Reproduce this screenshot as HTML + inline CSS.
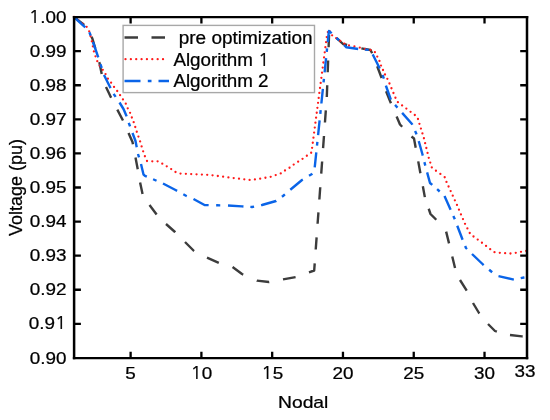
<!DOCTYPE html>
<html><head><meta charset="utf-8"><title>Voltage profile</title>
<style>
html,body{margin:0;padding:0;background:#fff;}
svg{display:block;}
text{font-family:"Liberation Sans", Arial, sans-serif;font-size:18px;fill:#000;stroke:#000;stroke-width:0.25px;}
.o{font-family:NanumGothic,"Liberation Sans",sans-serif;}
</style></head>
<body>
<svg width="550" height="420" viewBox="0 0 550 420">
<rect width="550" height="420" fill="#fff"/>
<path d="M74.00 17.00L84.21 25.03M91.56 36.71L92.50 39.00 95.33 48.70M99.26 62.17L99.50 63.00 101.71 74.07M106.00 87.00L111.00 97.50 111.14 97.77M117.31 109.60L122.99 120.49M128.50 133.00L132.50 142.00 132.94 144.26M135.50 157.50L137.50 168.00 137.73 169.29M140.10 182.48L142.55 194.00M149.50 205.00L156.62 214.49M166.00 224.00L175.00 232.00 175.25 232.25M185.00 242.00L194.00 251.00 194.05 251.03M207.00 257.60L218.79 262.91M232.57 266.97L242.00 274.00 243.23 274.54M256.78 280.50L257.00 280.60 269.00 282.00 269.23 281.96M283.00 279.40L295.58 277.08M309.00 272.40L314.20 270.50 314.72 263.34M315.72 249.51L316.61 237.35M317.59 223.78L318.43 212.31M319.36 199.50L320.25 187.24M321.24 173.55L322.12 161.50M323.09 148.04L323.97 135.97M324.95 122.50L325.82 110.45M326.80 97.00L327.22 85.33M327.70 72.29L328.13 60.43M328.61 47.19L329.06 34.83M336.70 38.06L343.00 44.00 347.10 45.02M361.37 48.31L370.50 50.00 372.14 53.28M377.21 66.23L381.62 77.99M386.10 91.26L390.00 101.00 390.95 103.21M396.61 116.45L400.00 124.50 402.18 126.78M411.50 136.50L414.00 138.50 415.70 147.70M418.23 161.37L420.41 173.17M422.85 186.34L424.84 197.11M428.70 208.76L430.50 214.00 436.00 219.50 436.28 219.82M446.14 231.59L449.03 243.39M452.25 256.56L455.04 268.00M460.00 280.00L466.73 290.57M473.00 303.00L479.00 313.00 479.32 313.40M488.00 324.00L495.00 331.00 496.85 331.69M510.00 335.00L522.00 336.40 522.68 336.48" fill="none" stroke="#3c3c3c" stroke-width="2.4" stroke-linejoin="round"/>
<path d="M74.00 17.00h0M78.22 20.28h0M82.44 23.56h0M86.66 26.85h0M89.19 31.30h0M90.57 36.27h0M91.82 41.28h0M92.87 46.33h0M93.88 51.39h0M95.52 56.29h0M97.28 61.16h0M99.64 65.69h0M102.78 69.78h0M105.55 74.10h0M107.91 78.64h0M111.11 82.69h0M114.02 86.93h0M117.20 91.00h0M120.08 95.21h0M122.95 99.42h0M125.78 103.66h0M127.73 108.31h0M130.10 112.79h0M131.84 117.51h0M133.68 122.20h0M135.26 126.98h0M136.77 131.77h0M138.42 136.53h0M140.13 141.43h0M141.62 146.39h0M143.16 151.34h0M144.90 156.23h0M147.00 161.00h0M152.30 161.30h0M157.59 161.35h0M162.28 163.67h0M166.75 166.36h0M171.17 169.12h0M175.50 172.00h0M180.53 173.62h0M185.87 173.87h0M191.20 174.12h0M196.54 174.37h0M201.88 174.62h0M207.21 174.87h0M212.53 175.33h0M217.82 176.02h0M223.11 176.70h0M228.41 177.39h0M233.70 178.04h0M239.00 178.68h0M244.30 179.32h0M249.60 179.95h0M254.90 179.39h0M260.18 178.64h0M265.44 177.76h0M270.67 176.78h0M275.71 175.10h0M280.74 173.42h0M285.00 170.50h0M289.53 167.77h0M293.70 164.58h0M298.14 161.71h0M302.53 158.78h0M306.85 155.77h0M311.16 152.74h0M312.12 147.82h0M312.79 142.74h0M313.46 137.66h0M314.13 132.58h0M314.78 127.62h0M315.43 122.67h0M316.08 117.71h0M316.74 112.75h0M317.39 107.80h0M318.04 102.84h0M318.70 97.89h0M319.35 92.93h0M320.00 87.97h0M320.68 82.88h0M321.35 77.79h0M322.03 72.70h0M322.70 67.60h0M323.38 62.51h0M324.05 57.42h0M324.73 52.32h0M325.40 47.23h0M326.07 42.14h0M326.74 37.04h0M327.85 32.06h0M329.77 31.31h0M332.13 35.34h0M336.19 38.13h0M340.26 40.93h0M344.37 43.65h0M349.00 45.50h0M354.41 46.48h0M359.80 47.58h0M365.09 49.02h0M370.50 50.00h0M374.90 52.21h0M377.26 56.53h0M379.46 60.92h0M381.02 65.54h0M383.01 70.02h0M385.00 74.49h0M387.35 78.81h0M389.47 83.50h0M391.45 88.25h0M393.44 93.00h0M395.43 97.75h0M397.89 102.17h0M402.12 105.38h0M406.35 108.58h0M410.58 111.78h0M414.81 114.98h0M417.98 118.98h0M419.44 123.80h0M420.93 128.62h0M422.43 133.43h0M423.92 138.25h0M425.14 143.13h0M426.34 148.02h0M427.55 152.90h0M428.75 157.79h0M430.27 162.60h0M431.81 167.40h0M435.94 170.76h0M440.37 173.93h0M444.69 177.26h0M446.47 181.91h0M448.56 186.52h0M450.66 191.12h0M452.76 195.72h0M454.86 200.32h0M456.97 204.92h0M458.96 209.66h0M460.96 214.40h0M462.99 219.12h0M465.02 223.85h0M467.38 228.43h0M469.74 233.02h0M473.50 236.50h0M477.71 239.62h0M481.93 242.75h0M486.06 245.97h0M490.19 249.19h0M494.50 252.20h0M499.81 252.80h0M505.14 253.20h0M510.47 253.50h0M515.76 252.80h0M521.00 251.80h0M526.24 250.93h0" fill="none" stroke="#ff1a1a" stroke-width="2.3" stroke-linecap="round"/>
<path d="M74.00 17.00L85.26 27.28M89.35 32.23L90.50 35.00 90.70 35.58M92.96 42.02L94.00 45.00 98.27 57.33M100.44 64.21L101.00 66.00 101.77 67.92M104.00 75.00L110.00 87.00 110.57 88.13M113.63 93.92L115.66 96.89M119.50 102.50L123.50 109.00 126.50 116.00 126.59 116.28M128.77 122.81L129.00 123.50 130.05 126.34M132.50 133.00L135.50 141.00 136.72 147.35M137.98 153.90L138.00 154.00 139.02 157.40M141.00 164.00L143.50 174.50 145.00 175.80 146.81 176.57M153.10 179.26L156.00 180.50 156.53 180.73M163.00 183.50L175.50 190.00 177.11 190.88M183.32 194.30L185.50 195.50 186.77 196.06M193.50 199.00L204.50 205.00 208.64 205.10M216.15 205.28L217.00 205.30 220.25 205.36M228.00 205.50L242.00 206.40 243.46 206.49M250.36 206.90L252.00 207.00 254.08 206.58M261.04 205.19L262.00 205.00 276.00 201.00 276.27 200.81M281.93 196.76L283.00 196.00 284.88 194.39M290.30 189.75L302.00 180.00 302.78 179.53M309.01 175.79L312.00 174.00 312.39 173.73M314.72 167.47L316.29 152.37M316.99 145.63L317.37 141.96M318.09 135.02L319.62 120.35M320.30 113.81L320.67 110.24M321.37 103.50L322.88 88.96M323.55 82.48L323.92 78.94M324.61 72.26L326.08 58.18M326.73 51.90L327.08 48.48M327.76 42.01L328.90 31.00 331.50 33.20 331.58 33.28M336.42 37.85L339.06 40.35M344.04 45.06L344.50 45.50 346.40 47.30 358.19 48.97M364.96 49.59L368.67 49.86M372.70 54.40L373.00 55.00 379.77 68.55M382.49 75.04L383.50 77.50 383.83 78.62M385.86 85.54L386.00 86.00 390.86 99.60M395.06 104.87L396.00 106.00 397.48 107.66M402.12 112.89L412.00 124.00 412.31 124.69M415.09 130.96L416.00 133.00 416.47 134.42M418.70 141.10L419.00 142.00 422.50 154.50 422.77 155.60M424.40 162.11L425.00 164.50 425.31 165.65M427.12 172.33L430.00 183.00 432.27 184.94M437.13 189.12L439.68 191.50M444.50 196.00L450.50 209.50 450.62 209.76M453.34 215.90L454.50 218.50 454.79 219.26M457.25 225.71L462.50 239.50 462.59 239.73M465.14 245.92L466.00 248.00 467.01 249.01M472.00 254.00L483.00 264.50 483.67 265.07M489.15 269.73L492.15 272.27M498.50 276.20L513.85 279.57M520.71 278.19L524.00 277.50 524.45 277.42" fill="none" stroke="#0a64e8" stroke-width="2.4" stroke-linejoin="round"/>
<path d="M130.62 358.1V351.8M130.62 17.1V23.400000000000002M201.40 358.1V351.8M201.40 17.1V23.400000000000002M272.18 358.1V351.8M272.18 17.1V23.400000000000002M342.96 358.1V351.8M342.96 17.1V23.400000000000002M413.74 358.1V351.8M413.74 17.1V23.400000000000002M484.52 358.1V351.8M484.52 17.1V23.400000000000002M74.1 51.18H80.89999999999999M527 51.18H520.2M74.1 85.26H80.89999999999999M527 85.26H520.2M74.1 119.34H80.89999999999999M527 119.34H520.2M74.1 153.42H80.89999999999999M527 153.42H520.2M74.1 187.50H80.89999999999999M527 187.50H520.2M74.1 221.58H80.89999999999999M527 221.58H520.2M74.1 255.66H80.89999999999999M527 255.66H520.2M74.1 289.74H80.89999999999999M527 289.74H520.2M74.1 323.82H80.89999999999999M527 323.82H520.2" stroke="#000" stroke-width="2.3" fill="none"/>
<path d="M72.85 17.1H528.25M72.85 358.1H528.25" stroke="#000" stroke-width="2.3" fill="none"/>
<path d="M74.1 15.950000000000001V359.25M527 15.950000000000001V359.25" stroke="#000" stroke-width="2.5" fill="none"/>
<text transform="translate(130.62 379.30) scale(1.085 1)" text-anchor="middle" style="font-size:17.4px">5</text>
<text transform="translate(201.40 379.30) scale(1.085 1)" text-anchor="middle" style="font-size:17.4px"><tspan class="o">1</tspan>0</text>
<text transform="translate(272.18 379.30) scale(1.085 1)" text-anchor="middle" style="font-size:17.4px"><tspan class="o">1</tspan>5</text>
<text transform="translate(342.96 379.30) scale(1.085 1)" text-anchor="middle" style="font-size:17.4px">20</text>
<text transform="translate(413.74 379.30) scale(1.085 1)" text-anchor="middle" style="font-size:17.4px">25</text>
<text transform="translate(484.52 379.30) scale(1.085 1)" text-anchor="middle" style="font-size:17.4px">30</text>
<text transform="translate(525.00 377.10) scale(1.085 1)" text-anchor="middle" style="font-size:17.4px">33</text>
<text transform="translate(66.50 22.70) scale(1.085 1)" text-anchor="end" style="font-size:17.4px"><tspan class="o">1</tspan>.00</text>
<text transform="translate(66.50 56.78) scale(1.085 1)" text-anchor="end" style="font-size:17.4px">0.99</text>
<text transform="translate(66.50 90.86) scale(1.085 1)" text-anchor="end" style="font-size:17.4px">0.98</text>
<text transform="translate(66.50 124.94) scale(1.085 1)" text-anchor="end" style="font-size:17.4px">0.97</text>
<text transform="translate(66.50 159.02) scale(1.085 1)" text-anchor="end" style="font-size:17.4px">0.96</text>
<text transform="translate(66.50 193.10) scale(1.085 1)" text-anchor="end" style="font-size:17.4px">0.95</text>
<text transform="translate(66.50 227.18) scale(1.085 1)" text-anchor="end" style="font-size:17.4px">0.94</text>
<text transform="translate(66.50 261.26) scale(1.085 1)" text-anchor="end" style="font-size:17.4px">0.93</text>
<text transform="translate(66.50 295.34) scale(1.085 1)" text-anchor="end" style="font-size:17.4px">0.92</text>
<text transform="translate(66.50 329.42) scale(1.085 1)" text-anchor="end" style="font-size:17.4px">0.9<tspan class="o">1</tspan></text>
<text transform="translate(66.50 363.50) scale(1.085 1)" text-anchor="end" style="font-size:17.4px">0.90</text>
<text transform="translate(303.20 408.00) scale(1.12 1)" text-anchor="middle" style="font-size:17.2px">Nodal</text>
<text transform="translate(21.5 187.5) rotate(-90) scale(1 1.07)" text-anchor="middle">Voltage (pu)</text>
<rect x="123.1" y="25.4" width="191.4" height="67.2" fill="#fff" stroke="#a8a8a8" stroke-width="1.4"/>
<path d="M124.5 37.5H138M151.5 37.5H165" stroke="#3c3c3c" stroke-width="2.4"/>
<path d="M125.50 59.2h0M130.86 59.2h0M136.22 59.2h0M141.58 59.2h0M146.94 59.2h0M152.30 59.2h0M157.66 59.2h0M163.02 59.2h0" stroke="#ff1a1a" stroke-width="2.3" stroke-linecap="round"/>
<path d="M124.5 81H140.5M147.8 81H151.5M158.5 81H169" stroke="#0a64e8" stroke-width="2.4"/>
<text transform="translate(173.40 43.80) scale(1.085 1)" text-anchor="start" style="font-size:17.5px" xml:space="preserve"> pre optimization</text>
<text transform="translate(173.40 65.50) scale(1.075 1)" text-anchor="start" style="font-size:17.5px">Algorithm <tspan class="o">1</tspan></text>
<text transform="translate(173.40 87.10) scale(1.075 1)" text-anchor="start" style="font-size:17.5px">Algorithm 2</text>
</svg>
</body></html>
